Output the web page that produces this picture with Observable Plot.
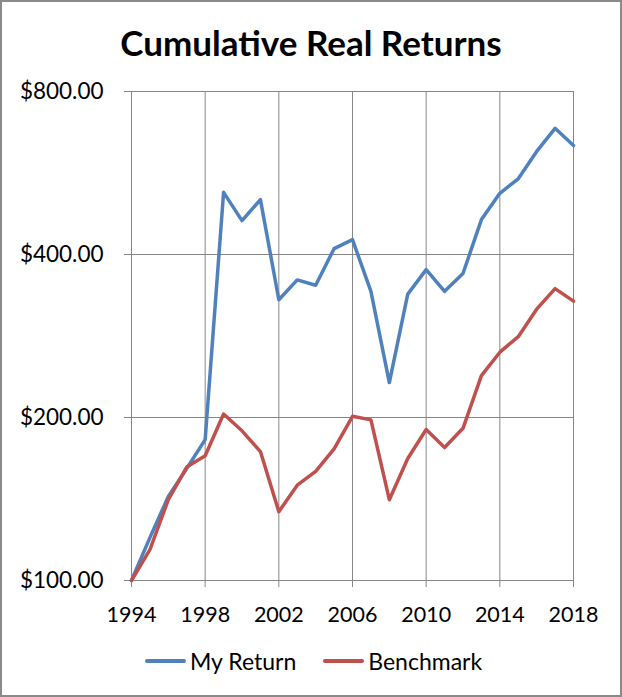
<!DOCTYPE html>
<html>
<head>
<meta charset="utf-8">
<script src="https://cdn.jsdelivr.net/npm/d3@7"></script>
<script src="https://cdn.jsdelivr.net/npm/@observablehq/plot@0.6"></script>
<style>
  html, body { margin: 0; padding: 0; background: #fff; }
  #wrap { position: relative; width: 622px; height: 697px; overflow: hidden; font-family: Lato, "Open Sans", sans-serif; }
  #frame { position: absolute; left: 0; top: 0; width: 622px; height: 697px; box-sizing: border-box; border: 2px solid #8a8a8a; pointer-events: none; }
  #title { position: absolute; left: 0; top: 0; width: 622px; height: 70px; line-height: 84px; text-align: center; font-weight: bold; font-size: 35px; color: #000; }
  #chart { position: absolute; left: 0; top: 60px; }
  #legend { position: absolute; left: 145px; top: 646px; height: 30px; display: flex; align-items: center; font-size: 23px; color: #000; }
  .sw { display: inline-block; width: 41px; height: 4px; border-radius: 2px; margin-right: 4px; }
  .item { display: flex; align-items: center; }
</style>
</head>
<body>
<div id="wrap">
  <div id="title">Cumulative Real Returns</div>
  <div id="chart"></div>
  <div id="legend"></div>
  <div id="frame"></div>
</div>
<script>
const years = [1994,1995,1996,1997,1998,1999,2000,2001,2002,2003,2004,2005,2006,2007,2008,2009,2010,2011,2012,2013,2014,2015,2016,2017,2018];
const myReturn = [100,120,143,161,182,521,462,505,330,359,351,410,426,342,232,338,375,342,369,464,519,552,620,684,636];
const benchmark = [100,114,141,162,170,203,189,173,134,150,159,175,201,198,141,168,190,176,191,239,264,282,317,346,328];
const seriesNames = ["My Return", "Benchmark"];
const seriesColors = ["#4F81BD", "#C0504D"];
const xTicks = [1994,1998,2002,2006,2010,2014,2018];
const yTicks = [100,200,400,800];

const rows = [];
years.forEach((y, i) => {
  rows.push({year: y, value: myReturn[i], series: seriesNames[0]});
  rows.push({year: y, value: benchmark[i], series: seriesNames[1]});
});

const chart = Plot.plot({
  width: 622,
  height: 580,
  marginLeft: 131,
  marginRight: 49,
  marginTop: 31,
  marginBottom: 60,
  style: {fontFamily: "Lato, 'Open Sans', sans-serif", fontSize: "21px", color: "#000", background: "transparent"},
  x: {domain: [1994, 2018]},
  y: {type: "log", domain: [100, 800]},
  color: {domain: seriesNames, range: seriesColors},
  marks: [
    Plot.gridX(xTicks, {stroke: "#868686", strokeOpacity: 1, strokeWidth: 1}),
    Plot.gridY(yTicks, {stroke: "#868686", strokeOpacity: 1, strokeWidth: 1}),
    Plot.axisX({ticks: xTicks, tickFormat: d => String(d), tickSize: 7, tickPadding: 19, stroke: "#868686", fontSize: 21.5, label: null}),
    Plot.axisY({ticks: yTicks, tickFormat: d => "$" + d.toFixed(2), tickSize: 7, tickPadding: 21, stroke: "#868686", fontSize: 22.5, label: null}),
    Plot.line(rows, {x: "year", y: "value", z: "series", stroke: "series", strokeWidth: 3.5, strokeLinejoin: "round", strokeLinecap: "round"})
  ]
});
document.getElementById("chart").appendChild(chart);

const legend = document.getElementById("legend");
seriesNames.forEach((name, i) => {
  const item = document.createElement("div");
  item.className = "item";
  if (i > 0) item.style.marginLeft = "27px";
  const sw = document.createElement("span");
  sw.className = "sw";
  sw.style.background = seriesColors[i];
  const t = document.createElement("span");
  t.textContent = name;
  item.appendChild(sw);
  item.appendChild(t);
  legend.appendChild(item);
});
</script>
</body>
</html>
